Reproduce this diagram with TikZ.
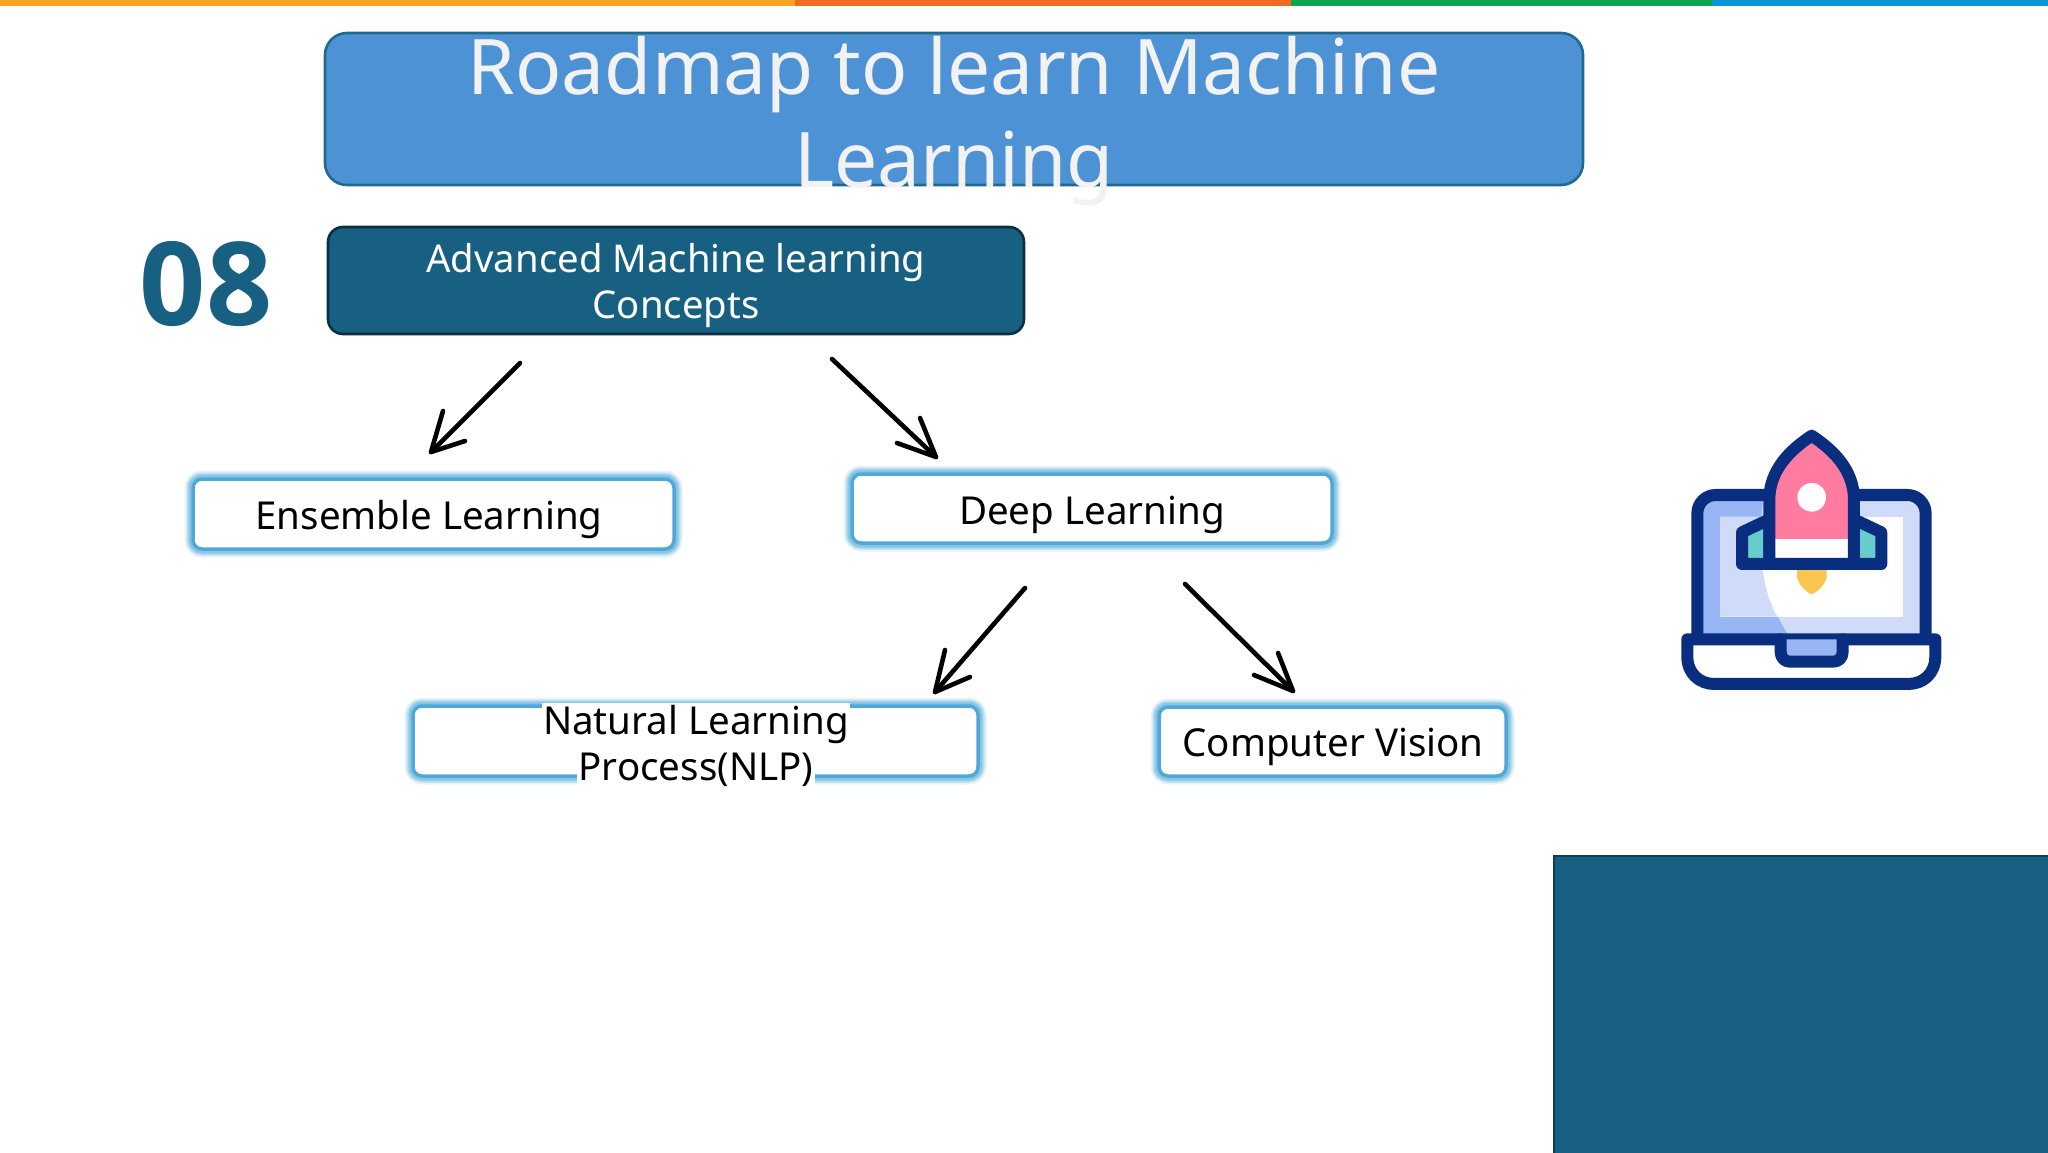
\documentclass[tikz,border=0pt]{standalone}
\usepackage{fontspec}
\setmainfont{Noto Sans}
\newfontfamily\numfont{Open Sans}[BoldFont={* Bold}]
\definecolor{barA}{HTML}{F9A51F}
\definecolor{barB}{HTML}{F26B25}
\definecolor{barC}{HTML}{0BA650}
\definecolor{barD}{HTML}{0A95D6}
\definecolor{titleF}{HTML}{4E92D6}
\definecolor{titleS}{HTML}{1F6A8F}
\definecolor{teal}{HTML}{176082}
\definecolor{tealS}{HTML}{0B2E42}
\definecolor{sky}{HTML}{4FA9D8}
\definecolor{navy}{HTML}{0A2E7F}
\definecolor{lapL}{HTML}{D0DBFA}
\definecolor{lapD}{HTML}{97B5F2}
\definecolor{pinkR}{HTML}{FF7BA0}
\definecolor{tealR}{HTML}{66CCCC}
\definecolor{flame}{HTML}{F9C64F}
\setlength{\fboxsep}{0pt}
\newcommand{\whitebar}[1]{\colorbox{white}{\hspace{1.5pt}\rule[-15pt]{0pt}{46pt}#1\hspace{1.5pt}}}
\tikzset{
  glowbox/.style={draw=sky,line width=3.5pt,fill=white,rounded corners=9pt,
    preaction={draw=sky,line width=17pt,opacity=.14,rounded corners=9pt},
    preaction={draw=sky,line width=13pt,opacity=.3,rounded corners=9pt},
    preaction={draw=sky,line width=9pt,opacity=.45,rounded corners=9pt}},
  boxtext/.style={font=\fontsize{38.5}{46}\selectfont,text=black,align=center,inner sep=0pt},
  arrow/.style={draw=black,line width=4.6pt,line cap=round,line join=round},
  lapline/.style={draw=navy,line width=12pt,line join=round,line cap=round}
}
\begin{document}
\begin{tikzpicture}[x=1pt,y=-1pt]
\useasboundingbox (0,0) rectangle (2048,1152);
% top colour bar
\fill[barA] (0,0) rectangle (795,6);
\fill[barB] (795,0) rectangle (1291,6);
\fill[barC] (1291,0) rectangle (1712,6);
\fill[barD] (1712,0) rectangle (2048,6);
% header
\draw[draw=titleS,fill=titleF,line width=2.6pt,rounded corners=22pt] (325,33) rectangle (1583,185);
\node[font=\fontsize{76.7}{93}\selectfont,text=white!95!black,align=center,inner sep=0pt] (title) at (954,121) {Roadmap to learn Machine\\Learning};
\node[font=\numfont\bfseries\fontsize{116}{116}\selectfont,text=teal,inner sep=0pt] (num) at (206,284) {08};
\draw[draw=tealS,fill=teal,line width=2.6pt,rounded corners=15pt] (328,227) rectangle (1024,334);
\node[font=\fontsize{38.3}{46}\selectfont,text=white,align=center,inner sep=0pt] (adv) at (676,286) {Advanced Machine learning\\Concepts};
% bottom-right panel
\draw[draw=tealS!70!teal,fill=teal,line width=2pt] (1554,856) rectangle (2050,1154);
% boxes
\draw[glowbox] (193,479) rectangle (674,549);
\node[boxtext] (ens) at (429,519) {Ensemble Learning};
\draw[glowbox] (852,474) rectangle (1332,543);
\node[boxtext] (deep) at (1092,515) {Deep Learning};
\draw[glowbox] (413,706) rectangle (978,776);
\draw[glowbox] (1159,707) rectangle (1506,776);
\node[boxtext] (cv) at (1333,747) {Computer Vision};
\node[boxtext] (nlp) at (696,749) {\whitebar{Natural Learning}\\[0pt]\whitebar{Process(NLP)}};
% arrows
\coordinate (a1s) at (520,363); \coordinate (a1e) at (431,452);
\coordinate (a2s) at (832,359); \coordinate (a2e) at (936,457);
\coordinate (a3s) at (1025,588); \coordinate (a3e) at (935,692);
\coordinate (a4s) at (1185,584); \coordinate (a4e) at (1293,691);
\coordinate (a1u) at (443,411); \coordinate (a1v) at (465,441);
\draw[arrow] (a1s) -- (a1e);
\draw[arrow] (a1u) -- (a1e) -- (a1v);
\coordinate (a2u) at (920,418); \coordinate (a2v) at (897,443);
\draw[arrow] (a2s) -- (a2e);
\draw[arrow] (a2u) -- (a2e) -- (a2v);
\coordinate (a3u) at (945,650); \coordinate (a3v) at (970,677);
\draw[arrow] (a3s) -- (a3e);
\draw[arrow] (a3u) -- (a3e) -- (a3v);
\coordinate (a4u) at (1278,653); \coordinate (a4v) at (1254,675);
\draw[arrow] (a4s) -- (a4e);
\draw[arrow] (a4u) -- (a4e) -- (a4v);
% laptop and rocket icon
\begin{scope}[shift={(1640,400)},x=0.3333pt,y=-0.3333pt]
  \begin{scope}
    \clip[rounded corners=17pt] (172,285) rectangle (857,740);
    \fill[lapL] (172,285) rectangle (857,740);
    \fill[lapD] (172,285) -- (372,285) .. controls (350,400) and (365,590) .. (445,705) -- (172,705) -- cycle;
  \end{scope}
  \fill[white] (240,350) rectangle (790,650);
  \fill[lapL] (240,350) -- (372,350) .. controls (352,440) and (365,570) .. (412,650) -- (240,650) -- cycle;
  \draw[lapline,fill=none] (172,720) -- (172,340) arc[start angle=180,end angle=90,x radius=55,y radius=-55] -- (802,285) arc[start angle=90,end angle=0,x radius=55,y radius=-55] -- (857,720);
  \draw[lapline,fill=white] (142,718) -- (886,718) -- (886,770) .. controls (886,820) and (850,852) .. (805,852) -- (223,852) .. controls (178,852) and (142,820) .. (142,770) -- cycle;
  \draw[lapline,fill=lapD] (422,718) -- (422,755) .. controls (422,775) and (435,785) .. (450,785) -- (580,785) .. controls (595,785) and (608,775) .. (608,755) -- (608,718);
  \fill[flame] (471,500) -- (471,530) .. controls (475,555) and (498,575) .. (515,583) .. controls (532,575) and (556,555) .. (560,530) -- (560,500) -- cycle;
  \draw[lapline,fill=tealR] (388,358) -- (306,397) -- (306,492) -- (388,492) -- cycle;
  \draw[lapline,fill=tealR] (642,358) -- (724,397) -- (724,492) -- (642,492) -- cycle;
  \fill[pinkR] (515,107) .. controls (450,150) and (388,210) .. (388,300) -- (388,492) -- (642,492) -- (642,300) .. controls (642,210) and (580,150) .. (515,107) -- cycle;
  \fill[white] (388,418) rectangle (642,492);
  \draw[lapline,fill=none] (515,107) .. controls (450,150) and (388,210) .. (388,300) -- (388,492) -- (642,492) -- (642,300) .. controls (642,210) and (580,150) .. (515,107) -- cycle;
  \fill[white] (515,292) circle[radius=43];
\end{scope}
\end{tikzpicture}
\end{document}
